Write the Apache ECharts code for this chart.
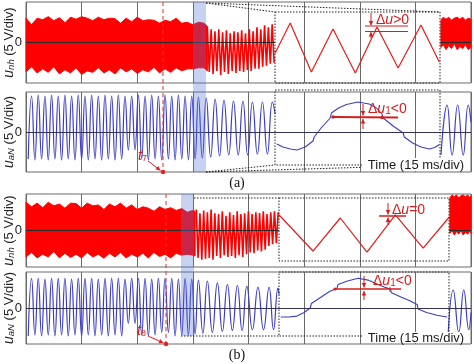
<!DOCTYPE html>
<html><head><meta charset="utf-8">
<script src="https://cdn.jsdelivr.net/npm/echarts/dist/echarts.min.js"></script>
<style>html,body{margin:0;padding:0;background:#fff}#c{width:474px;height:364px}</style>
</head><body><div id="c"></div>
<script>
// ---------- (a) u_nh ----------
const nhA_envX = [0,0.1,0.2,0.3,0.4,0.5,0.6,0.7,0.8,0.9,1.0,1.1,1.2,1.3,1.4,1.5,1.6,1.7,1.8,1.9,2.0,2.1,2.2,2.3,2.4,2.5,2.6,2.7,2.8,2.9,3.0,3.1,3.2,3.26];
const nhA_envHi = [2.4,1.75,2.4,2.25,2.55,2.15,2.45,1.95,2.5,2.3,2.55,2.4,2.15,2.5,2.25,2.4,2.35,1.9,2.4,2.05,2.5,2.15,2.25,2.2,1.9,2.2,2.05,2.4,1.9,2.0,1.75,2.0,1.9,1.6];
const nhA_envLo = [-2.9,-2.4,-3.0,-2.6,-2.95,-2.4,-3.1,-2.7,-3.0,-2.5,-3.15,-2.8,-2.95,-2.5,-3.0,-2.7,-3.1,-2.5,-2.9,-2.6,-3.05,-2.7,-2.9,-2.45,-3.0,-2.6,-2.95,-2.5,-2.8,-2.6,-2.6,-2.5,-2.5,-2.8];
const nhA_zigT0 = 3.26, nhA_zigDt = 0.0343;
const nhA_zig = [1.5,-2.9,1.3,-3.1,1.1,-2.8,1.3,-3.2,1.0,-2.9,1.2,-3.1,0.9,-2.8,1.1,-3.0,1.0,-2.8,1.2,-2.9,0.9,-2.7,1.3,-2.8,1.1,-2.6,1.5,-2.6,1.3,-2.4,1.7,-2.3,1.5,-2.1,1.8,-2.0];
const nhA_zoomX = [4.48,4.75,5.13,5.52,5.92,6.31,6.69,7.10,7.43];
const nhA_zoomY = [-1.04,1.93,-2.92,1.34,-3.02,1.53,-2.52,1.73,-1.93];
const nhA_rightX = [7.46,7.5,7.55,7.6,7.65,7.7,7.75,7.8,7.85,7.9,7.95,8.0];
const nhA_rightHi = [2.2,2.5,2.3,2.5,2.2,2.4,2.5,2.3,2.5,2.2,2.4,2.3];
const nhA_rightLo = [-0.5,-0.2,-0.7,-0.3,-0.6,-0.1,-0.7,-0.4,-0.6,-0.2,-0.7,-0.5];

// ---------- (a) u_aN ----------
const aNA_t0 = 0.04, aNA_dt = 0.06;
const aNA_left = [-2.7,3.6,-2.8,3.7,-2.7,3.6,-2.8,3.7,-2.7,3.6,
  -2.8,3.7,-2.7,3.6,-2.8,3.7,-2.7,3.6,-2.8,3.7,
  -2.7,3.6,-2.8,3.7,-2.7,3.6,-2.8,3.7,-2.7,3.6,
  -1.8,3.6,-1.8,3.7,-2.7,3.6,-2.8,3.7,-2.7,3.6,
  -2.8,3.7,-2.7,3.6,-2.8,3.7,-2.7,3.6,-2.8,3.6,
  -2.7,3.5];
const aNA_midX = [3.17,3.24,3.32,3.40,3.48,3.56,3.645,3.73,3.815,3.90,3.985,4.07,4.16,4.25,4.34,4.43,4.48];
const aNA_midY = [-2.6,3.4,-2.5,3.3,-2.4,3.2,-2.3,3.1,-2.3,3.1,-2.3,3.0,-2.2,3.0,-2.2,3.0,1.8];
const aNA_zoomX = [4.51,4.62,4.75,4.87,5.02,5.16,5.18,5.32,5.47,5.49,5.62,5.76,5.97,6.17,6.30,6.40,6.42,6.60,6.78,6.80,6.95,7.10,7.25,7.35,7.43];
const aNA_zoomY = [-1.2,-1.5,-1.7,-1.8,-1.5,-0.9,-0.5,0.5,1.4,1.9,2.4,2.75,3.0,2.8,2.4,1.8,1.4,0.6,-0.1,-0.5,-1.1,-1.5,-1.7,-1.55,-1.25];
const aNA_rightX = [7.46,7.57,7.66,7.76,7.86,7.95,8.0];
const aNA_rightY = [-2.3,2.7,-2.3,2.7,-2.3,2.7,1.0];

// ---------- (b) u_nh ----------
const nhB_envX = [0,0.1,0.2,0.3,0.4,0.5,0.6,0.7,0.8,0.9,1.0,1.1,1.2,1.3,1.4,1.5,1.6,1.7,1.8,1.9,2.0,2.1,2.2,2.3,2.4,2.5,2.6,2.7,2.8,2.9,3.0,3.04];
const nhB_envHi = [3.1,2.6,3.0,2.5,3.1,2.7,2.9,2.45,3.0,2.95,2.45,3.0,2.7,2.8,2.3,2.9,2.6,3.0,2.45,2.8,2.3,2.6,2.45,2.1,2.6,2.3,2.5,2.2,2.4,2.0,2.2,2.1];
const nhB_envLo = [-2.9,-2.4,-3.0,-2.6,-2.9,-2.3,-3.0,-2.5,-2.95,-2.6,-3.0,-2.4,-2.9,-2.6,-3.05,-2.5,-2.9,-2.4,-3.0,-2.6,-2.9,-2.5,-3.0,-2.4,-2.85,-2.6,-3.0,-2.5,-2.7,-2.6,-2.7,-2.8];
const nhB_zigT0 = 3.06, nhB_zigDt = 0.0335;
const nhB_zig = [2.3,-3.0,1.9,-3.2,2.2,-3.1,2.0,-3.0,2.3,-3.2,1.9,
  -2.8,1.8,-3.0,2.1,-2.7,1.6,-2.9,2.0,-2.8,1.7,-3.0,2.1,-2.7,1.8,-2.9,
  1.9,-2.6,2.1,-2.4,1.8,-2.5,2.0,-2.2,1.9,-2.3,2.1,-2.1,1.8,
  -1.7,2.0,-1.5,2.1,-1.4,2.0];
const nhB_zoomX = [4.55,5.16,5.65,6.13,6.64,7.14,7.61];
const nhB_zoomY = [1.7,-2.25,1.37,-2.36,1.70,-1.92,1.48];
const nhB_rightX = [7.62,7.66,7.7,7.74,7.78,7.82,7.86,7.9,7.94,7.98,8.0];
const nhB_rightHi = [3.6,3.9,3.7,3.9,3.6,3.8,3.9,3.7,3.9,3.6,3.8];
const nhB_rightLo = [-0.3,0.0,-0.5,-0.1,-0.4,0.0,-0.5,-0.2,-0.4,0.0,-0.3];

// ---------- (b) u_aN ----------
const aNB_t0 = 0.04, aNB_dt = 0.06;
const aNB_left = [-3.1,3.3,-3.0,3.3,-3.1,3.2,-3.0,3.3,-3.1,3.3,
  -3.0,3.3,-3.1,3.2,-3.0,3.3,-3.1,3.3,-3.0,3.3,
  -3.1,3.2,-3.0,3.3,-3.1,3.3,-3.0,3.3,-3.1,3.2,
  -1.7,3.3,-1.7,3.3,-3.0,3.3,-3.1,3.2,-3.0,3.3,
  -2.7,3.3,-2.7,3.3,-3.1,3.2,-3.0,3.3,-3.0,3.2];
const aNB_midX = [3.04,3.10,3.18,3.26,3.35,3.44,3.53,3.62,3.71,3.80,3.885,3.97,4.07,4.17,4.27,4.37,4.45,4.53,4.55];
const aNB_midY = [-2.9,3.1,-2.8,3.0,-2.7,2.8,-2.6,2.6,-2.5,2.5,-2.5,2.4,-2.4,2.3,-2.4,2.3,-2.4,2.2,1.5];
const aNB_zoomX = [4.58,4.72,4.87,5.0,5.11,5.13,5.30,5.45,5.59,5.61,5.78,5.97,6.15,6.30,6.45,6.55,6.57,6.75,6.90,7.03,7.05,7.20,7.39,7.57];
const aNB_zoomY = [-1.0,-1.0,-0.9,-0.5,0.0,0.5,1.2,1.8,2.2,2.6,3.0,3.3,3.1,2.7,2.3,2.1,1.7,1.2,0.8,0.4,-0.1,-0.5,-0.8,-1.0];
const aNB_rightX = [7.59,7.68,7.78,7.87,7.96,8.0];
const aNB_rightY = [-2.8,2.0,-2.7,2.0,-2.4,-0.5];

// ---------- labels ----------
const yNames = ['nh','aN','nh','aN'];
const timeLabel = 'Time (15 ms/div)';
const captions = ['(a)','(b)'];

// ================= build =================
const RED = '#ff0000', RED2 = '#e41b1b', BLUE = '#3d3dc4', ANN = '#d41f1f';
const pairs = (xs, ys) => xs.map((x, i) => [x, ys[i]]);
const uni = (t0, dt, ys) => ys.map((v, i) => [+(t0 + i * dt).toFixed(4), v]);

function band(gi, xs, lo, hi) {
  return {type:'custom', xAxisIndex:gi, yAxisIndex:gi, data:[[xs[0], lo[0]]], z:2, silent:true,
    renderItem:(params, api) => {
      const top = xs.map((x,i) => api.coord([x, hi[i]]));
      const bot = xs.map((x,i) => api.coord([x, lo[i]])).reverse();
      return {type:'polygon', shape:{points: top.concat(bot)}, style:{fill:RED, stroke:RED, lineWidth:1}};
    }};
}
function ln(gi, data, color, w, extra) {
  return Object.assign({type:'line', xAxisIndex:gi, yAxisIndex:gi, data, symbol:'none',
    lineStyle:{color, width:w}, z:3, silent:true}, extra || {});
}
function zeroLine(segs, color) {
  return {symbol:'none', silent:true, label:{show:false}, lineStyle:{color, width:1, type:'solid'},
    data: segs.map(s => [{coord:[s[0],0]},{coord:[s[1],0]}])};
}

const grids = [
  {top:2, height:81},{top:92, height:80},{top:194, height:73},{top:272, height:72}
].map(g => Object.assign({left:26, width:445, show:true, borderColor:'#6a6a6a', borderWidth:1,
  containLabel:false, outerBoundsMode:'none'}, g));

const xAxes = grids.map((g,i)=>({gridIndex:i, type:'value', min:0, max:8, interval:1,
  axisLine:{show:false}, axisTick:{show:false}, axisLabel:{show:false},
  splitLine:{show:true, lineStyle:{color:'#6a6a6a', width:1}}}));
const yAxes = grids.map((g,i)=>({gridIndex:i, type:'value', min:-4, max:4, interval:4,
  axisLine:{show:false}, axisTick:{show:false}, splitLine:{show:false},
  axisLabel:{fontSize:13, color:'#222', margin:4, fontFamily:'Liberation Sans', formatter:v=>v===0?'0':''},
  name:'{i|u}{s|'+yNames[i]+'}{n| (5 V/div)}', nameLocation:'middle', nameRotate:90, nameGap:10,
  nameMoveOverlap:false,
  nameTextStyle:{fontSize:13, color:'#222', fontFamily:'Liberation Sans',
    rich:{i:{fontSize:14, fontStyle:'italic', fontFamily:'Liberation Sans', color:'#222'},
          s:{fontSize:9.5, fontStyle:'italic', fontFamily:'Liberation Sans', color:'#222', verticalAlign:'bottom'},
          n:{fontSize:13, fontFamily:'Liberation Sans', color:'#222'}}}}));

const series = [
  band(0, nhA_envX, nhA_envLo, nhA_envHi),
  band(0, nhA_rightX, nhA_rightLo, nhA_rightHi),
  ln(0, uni(nhA_zigT0, nhA_zigDt, nhA_zig), RED, 1.6),
  ln(0, pairs(nhA_zoomX, nhA_zoomY), RED2, 1.2, {markLine: zeroLine([[0,4.48],[7.45,8]], '#2a2a2a')}),
  ln(1, uni(aNA_t0, aNA_dt, aNA_left).concat(pairs(aNA_midX, aNA_midY)), BLUE, 1.2, {smooth:0.5,
     markLine: zeroLine([[0,8]], '#33335a')}),
  ln(1, pairs(aNA_zoomX, aNA_zoomY), BLUE, 1.1),
  ln(1, pairs(aNA_rightX, aNA_rightY), BLUE, 1.2, {smooth:0.5}),
  band(2, nhB_envX, nhB_envLo, nhB_envHi),
  band(2, nhB_rightX, nhB_rightLo, nhB_rightHi),
  ln(2, uni(nhB_zigT0, nhB_zigDt, nhB_zig), RED, 1.6),
  ln(2, pairs(nhB_zoomX, nhB_zoomY), RED2, 1.2, {markLine: zeroLine([[0,4.55],[7.61,8]], '#2a2a2a')}),
  ln(3, uni(aNB_t0, aNB_dt, aNB_left).concat(pairs(aNB_midX, aNB_midY)), BLUE, 1.2, {smooth:0.5,
     markLine: zeroLine([[0,8]], '#33335a')}),
  ln(3, pairs(aNB_zoomX, aNB_zoomY), BLUE, 1.1),
  ln(3, pairs(aNB_rightX, aNB_rightY), BLUE, 1.2, {smooth:0.5})
];

// ---------- decorations ----------
const G = [];
const DOT = [1.5, 1.5];
function gl(x1,y1,x2,y2,stroke,w,dash,z){G.push({type:'line',z:z||100,silent:true,shape:{x1,y1,x2,y2},style:{stroke,lineWidth:w||1,lineDash:dash||null}});}
function gr(x,y,w,h,fill,stroke,dash,z){G.push({type:'rect',z:z||100,silent:true,shape:{x,y,width:w,height:h},style:{fill:fill||'none',stroke:stroke||null,lineWidth:1,lineDash:dash||null}});}
function gc(cx,cy,r,fill){G.push({type:'circle',z:110,silent:true,shape:{cx,cy,r},style:{fill}});}
function arrow(x1,y1,x2,y2,color){
  gl(x1,y1,x2,y2,color,1,null,110);
  const dx=x2-x1, dy=y2-y1, L=Math.hypot(dx,dy), ux=dx/L, uy=dy/L, h=4.5, w=2.3;
  const bx=x2-ux*h, by=y2-uy*h;
  G.push({type:'polygon',z:110,silent:true,shape:{points:[[x2,y2],[bx-uy*w,by+ux*w],[bx+uy*w,by-ux*w]]},style:{fill:color}});
}
function gt(x,y,text,rich,align,z){G.push({type:'text',z:z||120,silent:true,x,y,style:{text,rich,align:align||'left',verticalAlign:'middle',fontFamily:'Liberation Sans',fontSize:14,fill:ANN}});}
const annRich = {n:{fontSize:14,fill:ANN,fontFamily:'Liberation Sans'}, i:{fontSize:14,fontStyle:'italic',fill:ANN,fontFamily:'Liberation Sans'},
  s:{fontSize:10,fill:ANN,fontFamily:'Liberation Sans',verticalAlign:'bottom'}};
const tRich = {i:{fontSize:14,fontStyle:'italic',fill:ANN,fontFamily:'Liberation Sans'},
  s:{fontSize:9,fill:ANN,fontFamily:'Liberation Sans',verticalAlign:'bottom'}};

// (a) zoom band, inset boxes, connectors
gr(193,2,13,170,'rgba(85,115,215,0.33)',null,null,90);
gr(275,12,165,71,null,'#222',DOT); gr(275,90,165,75,null,'#222',DOT);
gl(206,3,275,12,'#222',1,DOT); gl(206,3,440,12,'#222',1,DOT);
gl(206,172,275,165,'#222',1,DOT); gl(206,172,440,165,'#222',1,DOT);
// (b)
gr(181,194,13,142,'rgba(85,115,215,0.33)',null,null,90);
gr(279,198,170,63,null,'#222',DOT); gr(279,272,170,64,null,'#222',DOT);
gl(194,198,279,198,'#222',1,DOT); gl(181,336,279,336,'#222',1,DOT);

// t7 / t8 markers
gl(163,2,163,172,'#e03030',1,[4,3]); gc(163,172,2.2,'#e02020');
arrow(148,161,160.5,170.5,'#e02020');
gt(138,156,'{i|t}{s|7}',tRich,'left');
gl(166,194,166,344,'#e03030',1,[4,3]); gc(166,344,2.2,'#e02020');
arrow(148,336,163.5,343,'#e02020');
gt(137,331,'{i|t}{s|8}',tRich,'left');

// Δu>0 (panel 1)
gl(365,26,408,26,ANN,1); gl(365,31.5,408,31.5,ANN,1);
arrow(371,13,371,25.5,ANN); arrow(371,38,371,32,ANN);
gt(376,20,'{n|Δ}{i|u}{n|>0}',annRich);
// Δu1<0 (panel 2)
gl(333,117,398,117.5,ANN,1.8); gc(333,117,1.8,ANN); gc(382,117.5,1.8,ANN);
arrow(363,104,363,115.5,ANN); arrow(363,129,363,119,ANN);
gt(368,109,'{n|Δ}{i|u}{s|1}{n|<0}',annRich);
// Δu=0 (panel 3)
gl(379,216,406,216,ANN,1.5);
arrow(388,203,388,214.5,ANN); arrow(388,225,388,217.5,ANN);
gt(392,210,'{n|Δ}{i|u}{n|=0}',annRich);
// Δu1<0 (panel 4)
gl(335,289,401,289,ANN,1.5); gc(335,289,1.6,ANN); gl(390,287,390,292,ANN,1);
arrow(364,276,364,287.5,ANN); arrow(364,300,364,291,ANN);
gt(373,281,'{n|Δ}{i|u}{s|1}{n|<0}',annRich);

// time labels
gr(362,158,108,13,'#fff',null,null,115);
G.push({type:'text',z:120,silent:true,x:416,y:165.5,style:{text:timeLabel,align:'center',verticalAlign:'middle',fontFamily:'Liberation Sans',fontSize:13,fill:'#1a1a1a'}});
gr(362,332,108,11,'#fff',null,null,115);
G.push({type:'text',z:120,silent:true,x:416,y:338.5,style:{text:timeLabel,align:'center',verticalAlign:'middle',fontFamily:'Liberation Sans',fontSize:13,fill:'#1a1a1a'}});
// captions
G.push({type:'text',z:120,silent:true,x:237,y:183,style:{text:captions[0],align:'center',verticalAlign:'middle',fontFamily:'Liberation Serif',fontSize:14,fill:'#111'}});
G.push({type:'text',z:120,silent:true,x:237,y:355,style:{text:captions[1],align:'center',verticalAlign:'middle',fontFamily:'Liberation Serif',fontSize:14,fill:'#111'}});

const chart = echarts.init(document.getElementById('c'), null, {renderer:'canvas'});
chart.setOption({
  animation:false, backgroundColor:'#fff',
  grid:grids, xAxis:xAxes, yAxis:yAxes, series, graphic:{elements:G}
});
</script></body></html>
